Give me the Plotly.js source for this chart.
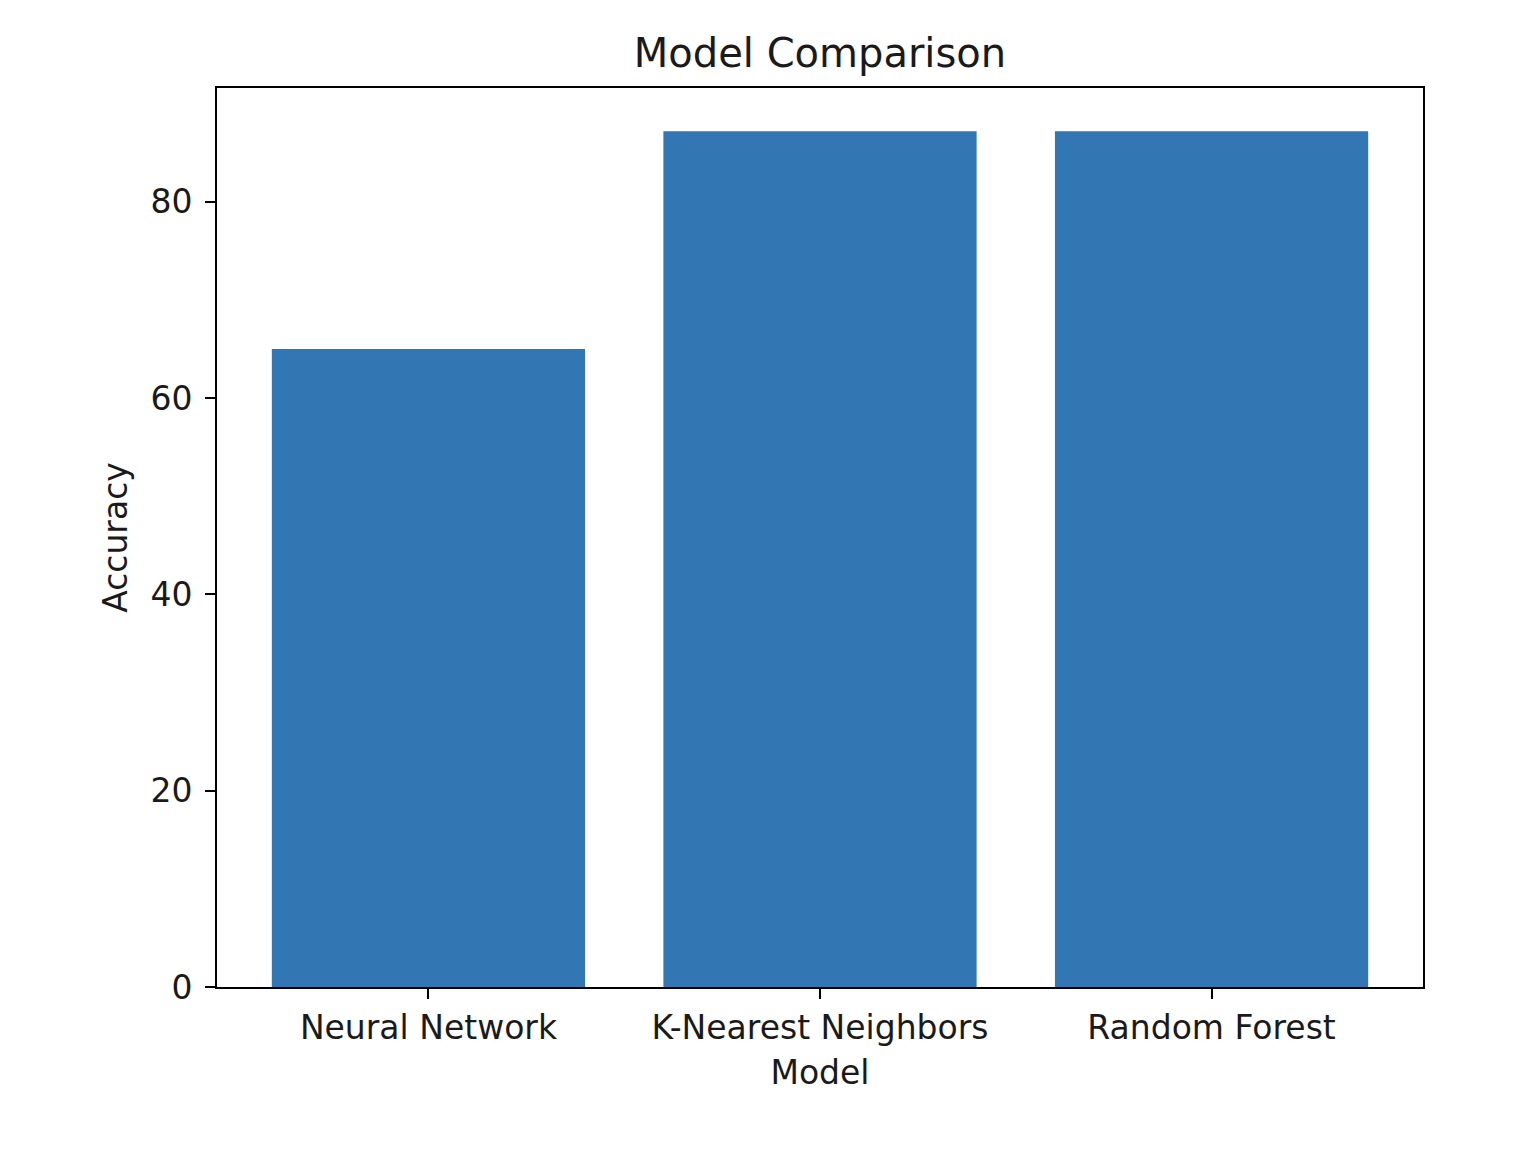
<!DOCTYPE html>
<html>
<head>
<meta charset="utf-8">
<script src="https://cdn.plot.ly/plotly-3.0.1.min.js"></script>
<style>
  body { margin: 0; background: #fff; }
  #chart { width: 1529px; height: 1149px; }
</style>
</head>
<body>
<div id="chart"></div>
<script>
// Model names and their accuracy (%)
const models = ['Neural Network', 'K-Nearest Neighbors', 'Random Forest'];
const accuracy = [65, 87.2, 87.2];
const yTicks = [0, 20, 40, 60, 80];

const font = {family: 'DejaVu Sans, sans-serif', color: '#1a1a1a'};

const layout = {
    width: 1529,
    height: 1149,
    margin: {l: 217, r: 106, t: 88, b: 162},
    paper_bgcolor: '#fff',
    plot_bgcolor: '#fff',
    showlegend: false,
    bargap: 0.2,
    title: {
        text: 'Model Comparison',
        font: {...font, size: 40},
        x: 0.5363, xanchor: 'center',
        y: 0.954, yanchor: 'middle'
    },
    xaxis: {
        title: {text: 'Model', font: {...font, size: 33}, standoff: 15},
        range: [-0.54, 2.54],
        showline: true, mirror: true, linecolor: '#000', linewidth: 2,
        ticks: 'outside', ticklen: 10, tickwidth: 2, tickcolor: '#000',
        tickfont: {...font, size: 33},
        showgrid: false, zeroline: false
    },
    yaxis: {
        title: {text: 'Accuracy', font: {...font, size: 33}, standoff: 13},
        range: [0, 91.6],
        tickvals: yTicks,
        ticktext: yTicks.map(String),
        ticklabelstandoff: 6,
        showline: true, mirror: true, linecolor: '#000', linewidth: 2,
        ticks: 'outside', ticklen: 10, tickwidth: 2, tickcolor: '#000',
        tickfont: {...font, size: 33},
        showgrid: false, zeroline: false
    }
};

Plotly.newPlot('chart', [{
    type: 'bar',
    x: models,
    y: accuracy,
    marker: {color: '#3276b4'},
    hoverinfo: 'x+y'
}], layout, {staticPlot: true, displayModeBar: false});
</script>
</body>
</html>
